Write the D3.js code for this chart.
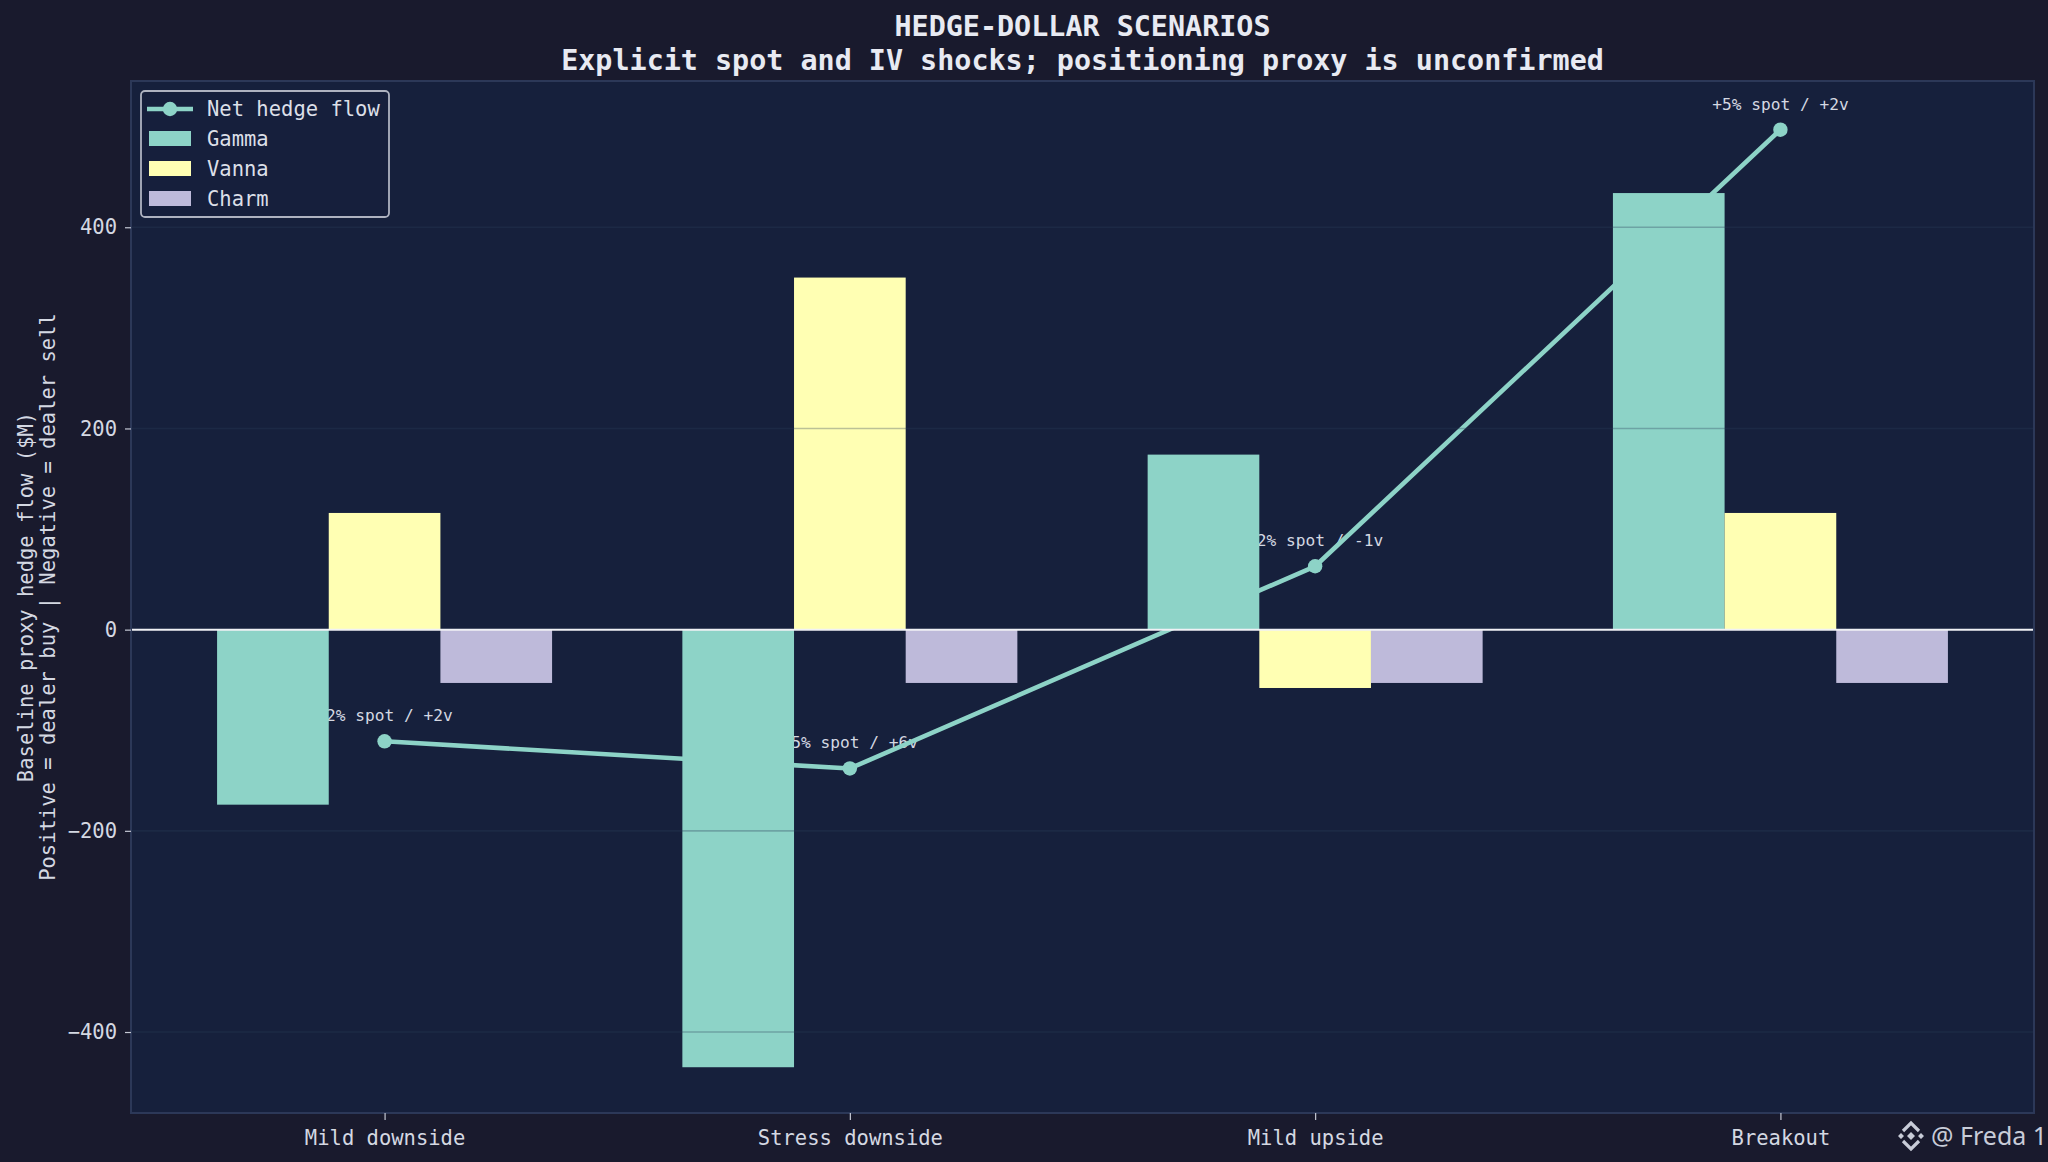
<!DOCTYPE html>
<html>
<head>
<meta charset="utf-8" />
<script src="https://cdn.jsdelivr.net/npm/d3@7"></script>
<style>
  html, body { margin: 0; padding: 0; background: #191a2d; }
  svg { display: block; }
</style>
</head>
<body>
<svg id="chart" width="2048" height="1162"></svg>
<script>
// Scenario data ($M)
const categories = ["Mild downside", "Stress downside", "Mild upside", "Breakout"];
const gammaValues = [-174, -435, 174, 434];
const vannaValues = [116, 350, -58, 116];
const charmValues = [-53, -53, -53, -53];
const netValues = [-111, -138, 63, 497];
const shockLabels = ["-2% spot / +2v", "-5% spot / +6v", "+2% spot / -1v", "+5% spot / +2v"];
const yTicks = [-400, -200, 0, 200, 400];

const seriesNames = ["Gamma", "Vanna", "Charm"];
const seriesColors = ["#8dd3c7", "#ffffb3", "#bebada"];
const seriesValues = [gammaValues, vannaValues, charmValues];

const width = 2048;
const height = 1162;
const margin = { top: 81, right: 14, bottom: 49, left: 131 };
const barWidth = 0.24;
const mono = "'DejaVu Sans Mono', monospace";

const svg = d3.select("#chart");

svg.append("rect")
  .attr("width", width)
  .attr("height", height)
  .attr("fill", "#191a2d");

const x = d3.scaleLinear()
  .domain([-0.545, 3.545])
  .range([margin.left, width - margin.right]);

const y = d3.scaleLinear()
  .domain([-480.5, 545.4])
  .range([height - margin.bottom, margin.top]);

// axes background
svg.append("rect")
  .attr("x", margin.left)
  .attr("y", margin.top)
  .attr("width", width - margin.left - margin.right)
  .attr("height", height - margin.top - margin.bottom)
  .attr("fill", "#16203c");

// annotation texts sit below the bars
svg.append("g")
  .selectAll("text")
  .data(categories)
  .join("text")
  .attr("x", (d, i) => x(i))
  .attr("y", (d, i) => y(netValues[i]) - 20)
  .attr("text-anchor", "middle")
  .attr("font-family", mono)
  .attr("font-size", "16.2px")
  .attr("fill", "#d4d8e2")
  .text((d, i) => shockLabels[i]);

// net hedge flow line (drawn under the bars)
const line = d3.line()
  .x((d, i) => x(i))
  .y((d) => y(d));

svg.append("path")
  .datum(netValues)
  .attr("fill", "none")
  .attr("stroke", "#8dd3c7")
  .attr("stroke-width", 4.6)
  .attr("stroke-linejoin", "round")
  .attr("d", line);

svg.append("g")
  .selectAll("circle")
  .data(netValues)
  .join("circle")
  .attr("cx", (d, i) => x(i))
  .attr("cy", (d) => y(d))
  .attr("r", 7.2)
  .attr("fill", "#8dd3c7");

// grouped bars
seriesValues.forEach((values, s) => {
  svg.append("g")
    .selectAll("rect")
    .data(values)
    .join("rect")
    .attr("x", (d, i) => x(i + (s - 1) * barWidth - barWidth / 2))
    .attr("width", x(barWidth) - x(0))
    .attr("y", (d) => y(Math.max(0, d)))
    .attr("height", (d) => Math.abs(y(d) - y(0)))
    .attr("fill", seriesColors[s]);
});

// grid lines over the bars
svg.append("g")
  .selectAll("line")
  .data(yTicks.filter((t) => t !== 0))
  .join("line")
  .attr("x1", margin.left)
  .attr("x2", width - margin.right)
  .attr("y1", (d) => y(d))
  .attr("y2", (d) => y(d))
  .attr("stroke", "#2c3e5a")
  .attr("stroke-opacity", 0.32)
  .attr("stroke-width", 1.6);

// zero line
svg.append("line")
  .attr("x1", margin.left)
  .attr("x2", width - margin.right)
  .attr("y1", y(0))
  .attr("y2", y(0))
  .attr("stroke", "#f0f1f5")
  .attr("stroke-width", 2);

// axes frame
svg.append("rect")
  .attr("x", margin.left)
  .attr("y", margin.top)
  .attr("width", width - margin.left - margin.right)
  .attr("height", height - margin.top - margin.bottom)
  .attr("fill", "none")
  .attr("stroke", "#2c3858")
  .attr("stroke-width", 2);

// y axis
const yAxis = (g) =>
  g.attr("transform", `translate(${margin.left},0)`)
    .call(d3.axisLeft(y).tickValues(yTicks).tickSize(6).tickPadding(8)
      .tickFormat((d) => d3.format("d")(d).replace("-", "\u2212")))
    .call((g) => g.select(".domain").remove());

svg.append("g")
  .call(yAxis)
  .call((g) => g.selectAll("line").attr("stroke", "#c4c8d4").attr("stroke-width", 1.2))
  .call((g) => g.selectAll("text")
    .attr("fill", "#d4d8e2")
    .attr("font-family", mono)
    .attr("font-size", "20.5px"));

// x axis
const xAxis = (g) =>
  g.attr("transform", `translate(0,${height - margin.bottom})`)
    .call(d3.axisBottom(x).tickValues(d3.range(categories.length)).tickSize(7).tickPadding(10)
      .tickFormat((d) => categories[d]))
    .call((g) => g.select(".domain").remove());

svg.append("g")
  .call(xAxis)
  .call((g) => g.selectAll("line").attr("stroke", "#c4c8d4").attr("stroke-width", 1.2))
  .call((g) => g.selectAll("text")
    .attr("fill", "#d4d8e2")
    .attr("font-family", mono)
    .attr("font-size", "20.5px"));

// y axis label, two lines
const yLabelLines = ["Baseline proxy hedge flow ($M)", "Positive = dealer buy | Negative = dealer sell"];
svg.append("g")
  .selectAll("text")
  .data(yLabelLines)
  .join("text")
  .attr("transform", (d, i) => `translate(${33 + i * 22},${(margin.top + height - margin.bottom) / 2}) rotate(-90)`)
  .attr("text-anchor", "middle")
  .attr("font-family", mono)
  .attr("font-size", "20.5px")
  .attr("fill", "#d4d8e2")
  .text((d) => d);

// title
const titleLines = ["HEDGE-DOLLAR SCENARIOS", "Explicit spot and IV shocks; positioning proxy is unconfirmed"];
svg.append("g")
  .selectAll("text")
  .data(titleLines)
  .join("text")
  .attr("x", (margin.left + width - margin.right) / 2)
  .attr("y", (d, i) => 36 + i * 34)
  .attr("text-anchor", "middle")
  .attr("font-family", mono)
  .attr("font-weight", "bold")
  .attr("font-size", "28.4px")
  .attr("fill", "#e8eaf2")
  .text((d) => d);

// legend
const legend = svg.append("g").attr("transform", "translate(141,91)");

legend.append("rect")
  .attr("width", 248)
  .attr("height", 126)
  .attr("rx", 4)
  .attr("fill", "#16203c")
  .attr("fill-opacity", 0.85)
  .attr("stroke", "#aeb2c0")
  .attr("stroke-width", 1.8);

legend.append("line")
  .attr("x1", 6)
  .attr("x2", 52)
  .attr("y1", 18)
  .attr("y2", 18)
  .attr("stroke", "#8dd3c7")
  .attr("stroke-width", 4.6);

legend.append("circle")
  .attr("cx", 29)
  .attr("cy", 18)
  .attr("r", 7.2)
  .attr("fill", "#8dd3c7");

legend.selectAll(".swatch")
  .data(seriesNames)
  .join("rect")
  .attr("class", "swatch")
  .attr("x", 8)
  .attr("y", (d, i) => 40 + i * 30)
  .attr("width", 42)
  .attr("height", 15)
  .attr("fill", (d, i) => seriesColors[i]);

legend.selectAll(".label")
  .data(["Net hedge flow"].concat(seriesNames))
  .join("text")
  .attr("class", "label")
  .attr("x", 66)
  .attr("y", (d, i) => 18 + i * 30)
  .attr("dy", "0.35em")
  .attr("font-family", mono)
  .attr("font-size", "20.5px")
  .attr("fill", "#dcdfe8")
  .text((d) => d);

// watermark
const mark = svg.append("g").attr("transform", "translate(1911,1136)");
const diamond = (cx, cy, r) => `M${cx},${cy - r}L${cx + r},${cy}L${cx},${cy + r}L${cx - r},${cy}Z`;
mark.append("path")
  .attr("d", [diamond(0, 0, 4), diamond(-10, 0, 3), diamond(10, 0, 3)].join(""))
  .attr("fill", "#c8ccd8");
mark.append("path")
  .attr("d", "M-8,-5L0,-13L8,-5M-8,5L0,13L8,5")
  .attr("fill", "none")
  .attr("stroke", "#c8ccd8")
  .attr("stroke-width", 3.2);

svg.append("text")
  .attr("x", 1931)
  .attr("y", 1145)
  .attr("font-family", "'Noto Sans', sans-serif")
  .attr("font-size", "25px")
  .attr("fill", "#c8ccd8")
  .text("@ Freda 1");
</script>
</body>
</html>
